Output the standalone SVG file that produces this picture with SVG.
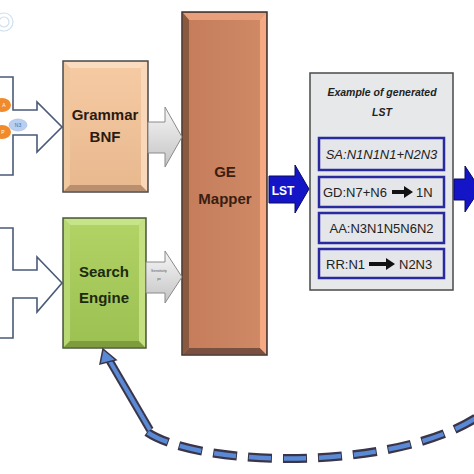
<svg xmlns="http://www.w3.org/2000/svg" width="474" height="474" viewBox="0 0 474 474">
<defs>
<linearGradient id="gray" x1="0" y1="0" x2="0" y2="1"><stop offset="0" stop-color="#f6f6f6"/><stop offset="1" stop-color="#c4c4c4"/></linearGradient>
<linearGradient id="tan" x1="0" y1="0" x2="0" y2="1"><stop offset="0" stop-color="#f6cba4"/><stop offset="1" stop-color="#e8b88e"/></linearGradient>
<linearGradient id="grn" x1="0" y1="0" x2="0" y2="1"><stop offset="0" stop-color="#b2d366"/><stop offset="1" stop-color="#9cc052"/></linearGradient>
<linearGradient id="brn" x1="0" y1="0" x2="1" y2="0"><stop offset="0" stop-color="#c47c5a"/><stop offset="1" stop-color="#d08a66"/></linearGradient>
</defs>
<style>
.lbl{font-family:"Liberation Sans",Arial,sans-serif;font-weight:bold;font-size:15px;text-anchor:middle}
.br{fill:#fff;stroke:#4a5a78;stroke-width:1.6;stroke-linejoin:miter}
.ga{fill:url(#gray);stroke:#8a8a8a;stroke-width:1}
.ex{fill:#e4e6ea;stroke:#2a2aa0;stroke-width:2.5}
.et{font-family:"Liberation Sans",Arial,sans-serif;font-size:13px;fill:#222}
</style>

<g id="icon" fill="none" stroke="#cfe0ee" stroke-width="1.2">
<circle cx="4" cy="22" r="9"/><circle cx="4" cy="22" r="5"/>
</g>

<g id="input-grammar">
<path class="br" d="M0,77 H13 V110 H37 V102 L62,127 L37,152 V135 H13 V175 H0"/>
<ellipse cx="2" cy="105" rx="9" ry="7" fill="#f08a2a"/>
<ellipse cx="2" cy="132" rx="9" ry="7" fill="#f08a2a"/>
<ellipse cx="18" cy="125" rx="9" ry="6" fill="#b8cff0" stroke="#9fb8e0" stroke-width="0.6"/>
<text x="18" y="127" font-family="Liberation Sans,sans-serif" font-size="5" text-anchor="middle" fill="#4a6aa0">N3</text>
<text x="4" y="107" font-family="Liberation Sans,sans-serif" font-size="5" text-anchor="middle" fill="#fff">A</text>
<text x="3" y="134" font-family="Liberation Sans,sans-serif" font-size="5" text-anchor="middle" fill="#fff">P</text>
</g>

<g id="input-search">
<path class="br" d="M0,228 H13 V270 H37 V257 L62,283 L37,312 V298 H13 V338 H0"/>
</g>

<g id="grammar">
<rect x="63" y="61" width="85" height="131" fill="url(#tan)" stroke="#4a4a4a" stroke-width="1.5"/>
<polygon points="64,62 147,62 141,68 70,68" fill="#fadcc0"/>
<polygon points="64,62 70,68 70,185 64,191" fill="#efc8a0"/>
<polygon points="64,191 70,185 141,185 147,191" fill="#b89070"/>
<polygon points="147,62 147,191 141,185 141,68" fill="#f8d8b8"/>
<text class="lbl" x="105" y="120" fill="#2a1a10">Grammar</text>
<text class="lbl" x="105" y="142" fill="#2a1a10">BNF</text>
</g>

<g id="search">
<rect x="63" y="218" width="83" height="130" fill="url(#grn)" stroke="#4a5a3a" stroke-width="1.5"/>
<polygon points="64,219 145,219 139,225 70,225" fill="#c8e48a"/>
<polygon points="64,219 70,225 70,341 64,347" fill="#b8d874"/>
<polygon points="64,347 70,341 139,341 145,347" fill="#7e9c3e"/>
<polygon points="145,219 145,347 139,341 139,225" fill="#c4e082"/>
<text class="lbl" x="104" y="277" fill="#1c2a10">Search</text>
<text class="lbl" x="104" y="303" fill="#1c2a10">Engine</text>
</g>

<g id="mapper">
<rect x="182" y="12" width="85" height="343" fill="url(#brn)" stroke="#3a3030" stroke-width="1.5"/>
<polygon points="183,13 266,13 260,20 189,20" fill="#e8a07c"/>
<polygon points="183,13 189,20 189,348 183,354" fill="#8a5a40"/>
<polygon points="183,354 189,348 260,348 266,354" fill="#7a5040"/>
<polygon points="266,13 266,354 260,348 260,20" fill="#f6aa84"/>
<text class="lbl" x="225" y="177" fill="#3a1e12" font-size="16">GE</text>
<text class="lbl" x="225" y="204" fill="#3a1e12" font-size="16">Mapper</text>
</g>

<g id="lst-box">
<rect x="310" y="73" width="143" height="217" fill="#e6e8ea" stroke="#4a4a4a" stroke-width="1.5"/>
<text x="382" y="96" font-family="Liberation Sans,Arial,sans-serif" font-size="10.5" font-weight="bold" font-style="italic" text-anchor="middle" fill="#222">Example of generated</text>
<text x="382" y="116" font-family="Liberation Sans,Arial,sans-serif" font-size="10.5" font-weight="bold" font-style="italic" text-anchor="middle" fill="#222">LST</text>
<rect class="ex" x="319" y="138" width="125" height="32"/>
<text class="et" x="381.5" y="159" font-style="italic" text-anchor="middle">SA:N1N1N1+N2N3</text>
<rect class="ex" x="319" y="177" width="125" height="30"/>
<text class="et" x="323" y="197" font-size="12">GD:N7+N6</text>
<path d="M392,190 H404 V186 L413,192 L404,198 V194 H392 Z" fill="#111"/>
<text class="et" x="416" y="197" font-size="12">1N</text>
<rect class="ex" x="319" y="213" width="125" height="30"/>
<text class="et" x="381.5" y="233" text-anchor="middle">AA:N3N1N5N6N2</text>
<rect class="ex" x="319" y="249" width="125" height="29"/>
<text class="et" x="326" y="269">RR:N1</text>
<path d="M369,262 H386 V258 L395,264 L386,270 V266 H369 Z" fill="#111"/>
<text class="et" x="399" y="269">N2N3</text>
</g>

<g id="connectors">
<path class="ga" d="M148,122 H165 V107 L182,137 L165,167 V153 H148 Z"/>
<path class="ga" d="M146,262 H165 V251 L182,277 L165,303 V293 H146 Z"/>
<text x="159" y="272" font-family="Liberation Sans,sans-serif" font-size="3.5" text-anchor="middle" fill="#555">Sensitivity</text>
<text x="159" y="280" font-family="Liberation Sans,sans-serif" font-size="3.5" text-anchor="middle" fill="#555">px</text>
<path d="M269,176 H295 V165 L309,189 L295,213 V203 H269 Z" fill="#1515c8" stroke="#0a0a60" stroke-width="1"/>
<text x="283" y="195" font-family="Liberation Sans,Arial,sans-serif" font-size="12" font-weight="bold" text-anchor="middle" fill="#fff">LST</text>
<path d="M454,179 H465 V166 L480,189 L465,212 V200 H454 Z" fill="#1515c8" stroke="#0a0a60" stroke-width="1"/>
<path d="M147,432 C200,468 400,472 482,414" fill="none" stroke="#3a3548" stroke-width="9" stroke-dasharray="24,11"/>
<path d="M147,432 C200,468 400,472 482,414" fill="none" stroke="#5a8ad6" stroke-width="4.5" stroke-dasharray="22,13" stroke-dashoffset="-1"/>
<path d="M150,430 L108,358" fill="none" stroke="#3a3548" stroke-width="8"/>
<path d="M150,430 L108,358" fill="none" stroke="#5a8ad6" stroke-width="4"/>
<polygon points="103,349 116,360 100,364" fill="#5a8ad6" stroke="#3a3548" stroke-width="1.5"/>
</g>
</svg>
